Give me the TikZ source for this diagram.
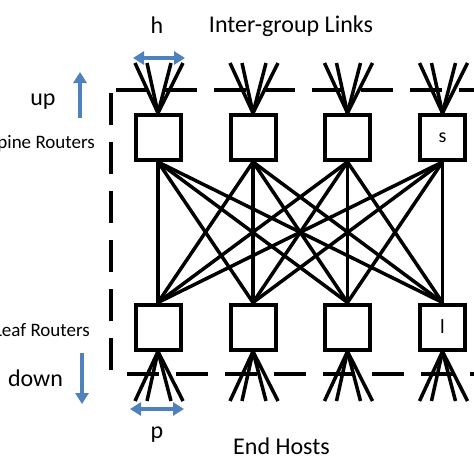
\documentclass[tikz,border=0pt]{standalone}
\usepackage{fontspec}
\setmainfont{Carlito}
\usetikzlibrary{arrows.meta}
\definecolor{ablue}{RGB}{79,129,189}
\begin{document}
\begin{tikzpicture}[x=1pt,y=-1pt,
  router/.style={draw,line width=4pt,minimum width=45pt,minimum height=45pt,inner sep=0pt,font=\fontsize{20}{24}\selectfont},
  link/.style={line width=3.5pt},
  fan/.style={line width=3.5pt},
  bnd/.style={line width=3.5pt,dash pattern=on 31.5pt off 17.5pt},
  barrow/.style={draw=ablue,line width=4pt,-{Triangle[length=11pt,width=13pt]}},
  dbarrow/.style={draw=ablue,line width=4pt,{Triangle[length=11pt,width=13pt]}-{Triangle[length=11pt,width=13pt]}},
  lbl/.style={font=\fontsize{24}{28}\selectfont,inner sep=0pt,anchor=base},
  side/.style={font=\fontsize{19}{22}\selectfont,inner sep=0pt,anchor=base east}]
\useasboundingbox (0,0) rectangle (474,474);
\clip (0,0) rectangle (474,474);
\fill[white] (0,0) rectangle (474,474);
% routers
\node[router] (s1) at (158,137.5) {};
\node[router] (s2) at (253,137.5) {};
\node[router] (s3) at (347.5,137.5) {};
\node[router] (s4) at (442.5,137.5) {s};
\node[router] (l1) at (158,327) {};
\node[router] (l2) at (253,327) {};
\node[router] (l3) at (347.5,327) {};
\node[router] (l4) at (442.5,327) {l};
% mesh
\foreach \i in {1,...,4} {
  \foreach \j in {1,...,4} {
    \draw[link] (s\i.south) -- (l\j.north);
  }
}
% fans
\foreach \i in {1,...,4} {
  \foreach \k/\d in {1/-23,2/-11,3/13,4/25} {
    \path (s\i.north) ++(\d,-50) coordinate (t\i\k);
    \draw[fan] (s\i.north) -- (t\i\k);
    \path (l\i.south) ++(\d,49.5) coordinate (b\i\k);
    \draw[fan] (l\i.south) -- (b\i\k);
  }
}
% group boundary
\coordinate (gt0) at (116,90); \coordinate (gt1) at (474,90);
\coordinate (gl0) at (111,93); \coordinate (gl1) at (111,372);
\coordinate (gb0) at (127,374); \coordinate (gb1) at (474,374);
\draw[bnd] (gt0) -- (gt1);
\draw[bnd] (gl0) -- (gl1);
\draw[bnd] (gb0) -- (gb1);
% blue arrows
\coordinate (hL) at (133,58); \coordinate (hR) at (185,58);
\draw[dbarrow] (hL) -- (hR);
\coordinate (pL) at (130,409); \coordinate (pR) at (184,409);
\draw[dbarrow] (pL) -- (pR);
\coordinate (u0) at (80,118); \coordinate (u1) at (80,72);
\draw[barrow] (u0) -- (u1);
\coordinate (d0) at (82,353); \coordinate (d1) at (82,404);
\draw[barrow] (d0) -- (d1);
% labels
\node[lbl] (h) at (157,33) {h};
\node[lbl] (igl) at (291,32) {Inter-group Links};
\node[lbl] (up) at (43,105) {up};
\node[side] (spine) at (95,148) {Spine Routers};
\node[side] (leaf) at (90,336) {Leaf Routers};
\node[lbl] (down) at (35.5,386) {down};
\node[lbl] (p) at (157,438) {p};
\node[lbl] (eh) at (281.5,454) {End Hosts};
\end{tikzpicture}
\end{document}
